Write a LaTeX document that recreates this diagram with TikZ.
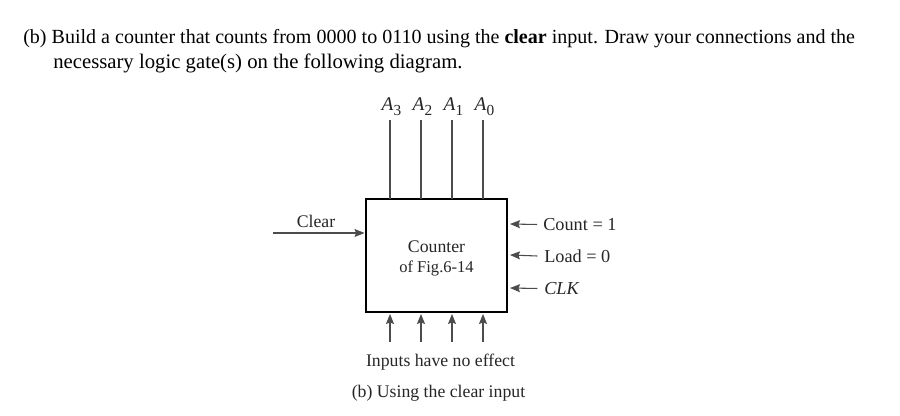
\documentclass[tikz,border=0pt]{standalone}
\usepackage{fontspec}
\setmainfont{Liberation Serif}
\usetikzlibrary{arrows.meta,calc}
\tikzset{
 px/.style={x=0.75pt,y=-0.75pt},
 lbl/.style={inner sep=0pt,text=black!85,font=\fontsize{13.3pt}{15pt}\selectfont},
 sidelbl/.style={lbl,anchor=west,font=\fontsize{13.7pt}{15pt}\selectfont},
 head/.style={inner sep=0pt,anchor=base west},
 wire/.style={draw=black!70,line width=0.8pt},
 boxed/.style={draw=black,line width=1.1pt,minimum width=105.5pt,minimum height=84.5pt,inner sep=0pt,outer sep=0pt},
 arr/.style={wire,-{Stealth[length=7.5pt,width=6pt,inset=1.2pt]}}
}
\newcommand{\subdig}[2]{\textit{#1}\raisebox{-0.25em}{\fontsize{11.5pt}{13pt}\selectfont #2}}
\begin{document}
\begin{tikzpicture}[px]
\useasboundingbox (0,0) rectangle (900,416);
\fill[white] (0,0) rectangle (900,416);
\node[head,font=\fontsize{15.03pt}{17pt}\selectfont] (t1) at (23,44) {(b) Build a counter that counts from 0000 to 0110 using the \textbf{clear} input. Draw your connections and the};
\node[head,font=\fontsize{15.55pt}{17pt}\selectfont] (t2) at (53,69) {necessary logic gate(s) on the following diagram.};

\node[boxed] (box) at (436.5,255.5) {};
\node[lbl] (ctr) at (436.5,246.5) {Counter};
\node[lbl,font=\fontsize{12.4pt}{15pt}\selectfont] (fig) at (436.5,268) {of Fig.6-14};

% outputs
\foreach \n/\sub/\x in {a3/3/390,a2/2/421,a1/1/452,a0/0/483}{
  \node[lbl,anchor=base,font=\fontsize{14.5pt}{15pt}\selectfont] (\n) at (\x+1.5,111) {\subdig{A}{\sub}};
  \coordinate (\n t) at (\x,120.5);
  \draw[wire] (\n t) -- (\n t |- box.north);
}

% bottom inputs
\foreach \n/\x in {b3/390,b2/421,b1/452,b0/483}{
  \coordinate (\n s) at (\x,342);
  \coordinate (\n e) at (\x,314);
  \draw[arr] (\n s) -- (\n e);
}

% clear
\node[lbl] (clear) at (316,221.5) {Clear};
\coordinate (clrs) at (273,233);
\coordinate (clre) at (364.5,233);
\draw[arr] (clrs) -- (clre);

% right side inputs
\node[sidelbl] (count) at (543,224.5) {Count = 1};
\node[sidelbl] (load) at (544,256) {Load = 0};
\node[sidelbl] (clk) at (544,288.5) {\textit{CLK}};
\coordinate (cnte) at (510,224);
\coordinate (lode) at (510,255);
\coordinate (clke) at (510,288);
\draw[arr] ([xshift=-4.5pt]count.west) -- (cnte);
\draw[arr] ([xshift=-5pt]load.west) -- (lode);
\draw[arr] ([xshift=-5pt]clk.west) -- (clke);

\node[lbl] (noeff) at (440.5,362.5) {Inputs have no effect};
\node[lbl] (cap) at (438.5,393.5) {(b) Using the clear input};
\end{tikzpicture}
\end{document}
